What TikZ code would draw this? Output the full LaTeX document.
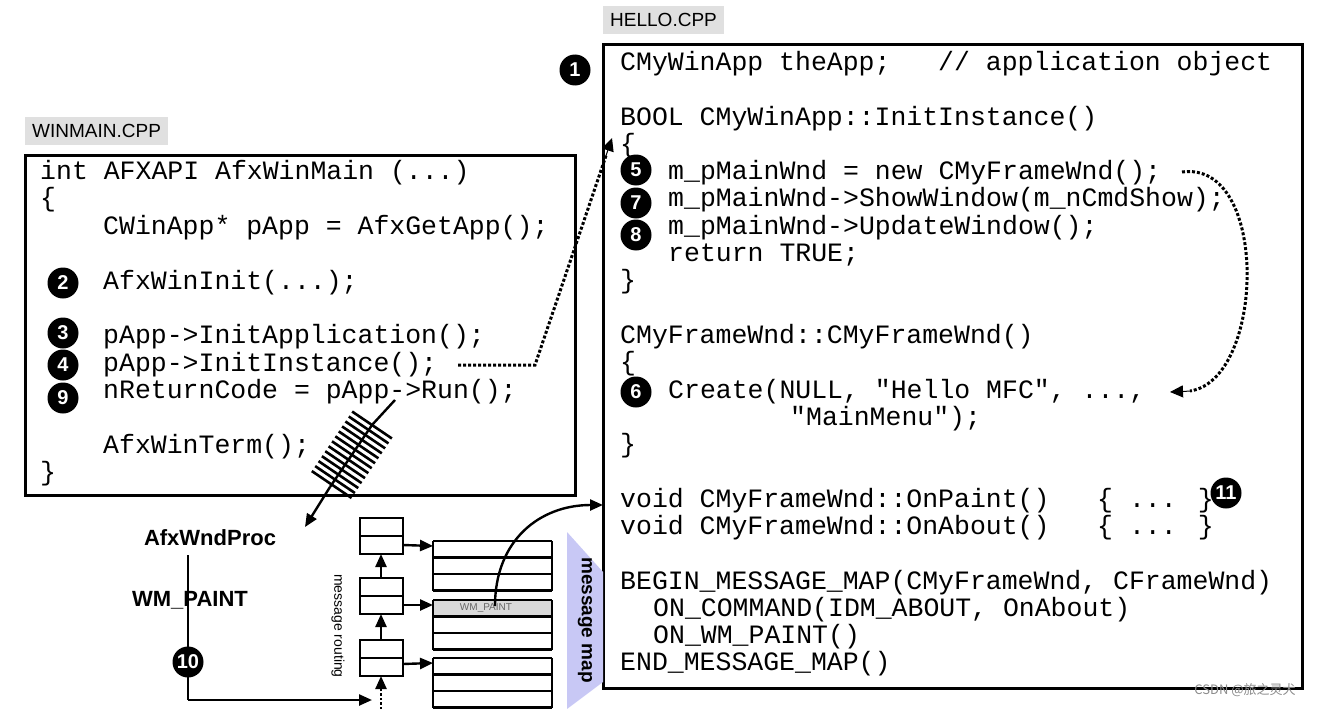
\documentclass[tikz,border=0pt]{standalone}
\usepackage{fontspec}
\setmainfont{Liberation Sans}
\newfontfamily\codef{Liberation Mono}
\newfontfamily\cjk{Noto Sans CJK SC}
\usetikzlibrary{arrows.meta,calc}
\definecolor{lav}{RGB}{200,200,245}
\begin{document}
\begin{tikzpicture}[x=1pt,y=-1pt,
  code/.style={anchor=west,inner sep=0pt,font=\codef\fontsize{26.5}{26.5}\selectfont},
  badge/.style={circle,fill=black,text=white,inner sep=0pt,minimum size=31pt,font=\bfseries\fontsize{20}{20}\selectfont},
  lbl/.style={fill=black!12,inner sep=7pt,font=\fontsize{19}{19}\selectfont,anchor=west},
  frame/.style={line width=3pt},
  arr/.style={-{Triangle[length=13pt,width=11pt]},line width=2.4pt},
  dots/.style={dotted,line width=3pt},
  bold/.style={font=\bfseries\fontsize{22}{22}\selectfont}]
\useasboundingbox (0,0) rectangle (1317,709);
% labels
\node[lbl] (lw) at (25,131) {WINMAIN.CPP};
\node[lbl] (lh) at (603,20) {HELLO.CPP};
% frames
\draw[frame] (25,155) rectangle (575,495);
\draw[frame] (603,45) rectangle (1302,688);
% left code
\node[code] (l1) at (40,173) {int AFXAPI AfxWinMain (...)};
\node[code] at (40,200) {\{};
\node[code] at (103,228) {CWinApp* pApp = AfxGetApp();};
\node[code] at (103,283) {AfxWinInit(...);};
\node[code] at (103,337) {pApp->InitApplication();};
\node[code] (ii) at (103,365) {pApp->InitInstance();};
\node[code] (run) at (103,392) {nReturnCode = pApp->Run();};
\node[code] at (103,447) {AfxWinTerm();};
\node[code] at (40,474) {\}};
% right code
\node[code] at (620,64) {CMyWinApp theApp;\ \ \ // application object};
\node[code] at (620,119) {BOOL CMyWinApp::InitInstance()};
\node[code] (ob) at (620,146) {\{};
\node[code] (mw) at (668,173) {m\_pMainWnd = new CMyFrameWnd();};
\node[code] at (668,200) {m\_pMainWnd->ShowWindow(m\_nCmdShow);};
\node[code] at (668,228) {m\_pMainWnd->UpdateWindow();};
\node[code] at (668,255) {return TRUE;};
\node[code] at (620,282) {\}};
\node[code] at (620,337) {CMyFrameWnd::CMyFrameWnd()};
\node[code] at (620,364) {\{};
\node[code] (cr) at (668,392) {Create(NULL, "Hello MFC", ...,};
\node[code] at (790,419) {"MainMenu");};
\node[code] at (620,446) {\}};
\node[code] at (620,501) {void CMyFrameWnd::OnPaint()\ \ \ \{ ... \}};
\node[code] at (620,528) {void CMyFrameWnd::OnAbout()\ \ \ \{ ... \}};
\node[code] at (620,583) {BEGIN\_MESSAGE\_MAP(CMyFrameWnd, CFrameWnd)};
\node[code] at (653,610) {ON\_COMMAND(IDM\_ABOUT, OnAbout)};
\node[code] at (653,637) {ON\_WM\_PAINT()};
\node[code] at (620,664) {END\_MESSAGE\_MAP()};
% badges
\node[badge] (b1) at (575,70) {1};
\node[badge] (b2) at (63,283) {2};
\node[badge] (b3) at (63,333) {3};
\node[badge] (b4) at (63,365) {4};
\node[badge] (b9) at (63,398) {9};
\node[badge] (b5) at (636,170) {5};
\node[badge] (b7) at (636,203) {7};
\node[badge] (b8) at (636,235) {8};
\node[badge] (b6) at (636,392) {6};
\node[badge] (b11) at (1226,493) {11};
% dotted arrows
\coordinate (d1) at (458,365);
\coordinate (d2) at (535,365);
\coordinate (d3) at (612,138);
\draw[dots] (d1) -- (d2) -- ($(d2)!0.93!(d3)$);
\draw[-{Triangle[length=13pt,width=12pt]},line width=1pt] ($(d2)!0.92!(d3)$) -- (d3);
\coordinate (e1) at (1182,172);
\coordinate (e2) at (1170,392);
\draw[dots] (e1) .. controls (1270,160) and (1265,380) .. (1190,391);
\draw[-{Triangle[length=13pt,width=12pt]},line width=1pt] (1192,391) -- (e2);
% hatched arrow
\coordinate (h0) at (395,400);
\coordinate (h1) at (372,425);
\coordinate (h2) at (330,487);
\coordinate (h3) at (305,527);
\draw[line width=2.4pt] (h0) -- (h1) -- (h2);
\draw[arr] (h2) -- (h3);
\foreach \t in {0,0.08,...,1.0}{
  \draw[line width=2.6pt] ($(h1)!\t!(h2)!24pt!90:(h2)$) -- ($(h1)!\t!(h2)!24pt!-90:(h2)$);
}
% bottom left
\node[bold] (wp) at (210,538) {AfxWndProc};
\node[bold] (wm) at (190,600) {WM\_PAINT};
\coordinate (c0) at (188,555);
\coordinate (c1) at (188,700);
\coordinate (c2) at (372,700);
\draw[line width=2.4pt] (c0) -- (c1);
\draw[arr] (c1) -- (c2);
\node[badge] (b10) at (188,662) {10};
\node[rotate=-90,font=\fontsize{14}{14}\selectfont] (mr) at (338,626) {message routing};
% routing boxes
\foreach \n/\y in {r1/518,r2/578,r3/640}{
  \draw[line width=2.4pt] (360,\y) rectangle (403,\y+36);
  \draw[line width=2.4pt] (360,\y+18) -- (403,\y+18);
  \coordinate (\n t) at (381,\y);
  \coordinate (\n b) at (381,\y+36);
}
\draw[arr] (r2t) -- (r1b);
\draw[arr] (r3t) -- (r2b);
\coordinate (rb0) at (381,709);
\draw[arr,dotted] (rb0) -- (r3b);
% tables
\fill[black!15] (434,601) rectangle (551,615);
\node[font=\fontsize{10}{10}\selectfont,text=black!60] (wmp) at (486,608) {WM\_PAINT};
\foreach \n/\y in {t1/541,t2/600,t3/658}{
  \draw[line width=2.4pt] (433,\y) -- (433,\y+50) (552,\y) -- (552,\y+50);
  \foreach \k in {0,1,2,3}{\draw[line width=2.4pt] (433,\y+\k*16.5) -- (552,\y+\k*16.5);}
  \coordinate (\n) at (433,\y+5);
}
\draw[arr] (403,545) -- (t1);
\draw[arr] (403,605) -- (t2);
\draw[arr] (403,664) -- (t3);
% message map shape
\fill[lav] (567,532) -- (603,572) -- (603,682) -- (567,709) -- cycle;
\node[rotate=-90,font=\bfseries\fontsize{19}{19}\selectfont] (mm) at (585,620) {message map};
% curved arrow to OnPaint
\coordinate (p0) at (495,606);
\coordinate (p1) at (603,505);
\draw[arr] (p0) .. controls (495,540) and (540,505) .. (p1);
% watermark
\node[font=\cjk\fontsize{13}{13}\selectfont,text=black!45] (wmk) at (1245,690) {CSDN @旅之灵犬};
\end{tikzpicture}
\end{document}
